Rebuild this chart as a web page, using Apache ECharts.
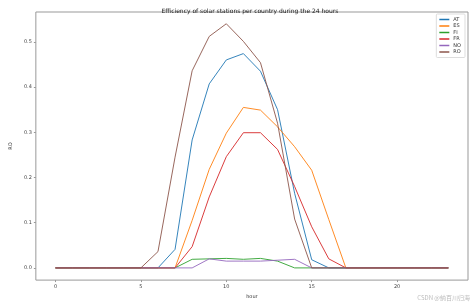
<!DOCTYPE html>
<html>
<head>
<meta charset="utf-8">
<script src="https://cdn.jsdelivr.net/npm/echarts@6/dist/echarts.min.js"></script>
<style>
  html, body { margin: 0; padding: 0; background: #fff; }
  #chart { width: 474px; height: 304px; }
</style>
</head>
<body>
<div id="chart"></div>
<script>
const hours = [0,1,2,3,4,5,6,7,8,9,10,11,12,13,14,15,16,17,18,19,20,21,22,23];
const AT = [0,0,0,0,0,0,0,0.041,0.283,0.407,0.460,0.474,0.435,0.350,0.165,0.018,0,0,0,0,0,0,0,0];
const ES = [0,0,0,0,0,0,0,0,0.105,0.218,0.298,0.355,0.349,0.312,0.268,0.216,0.107,0,0,0,0,0,0,0];
const FI = [0,0,0,0,0,0,0,0,0.019,0.020,0.021,0.019,0.021,0.015,0,0,0,0,0,0,0,0,0,0];
const FR = [0,0,0,0,0,0,0,0,0.047,0.157,0.246,0.299,0.299,0.262,0.180,0.091,0.020,0,0,0,0,0,0,0];
const NO = [0,0,0,0,0,0,0,0,0,0.020,0.015,0.015,0.015,0.017,0.019,0,0,0,0,0,0,0,0,0];
const RO = [0,0,0,0,0,0,0.036,0.245,0.436,0.512,0.540,0.501,0.454,0.320,0.108,0,0,0,0,0,0,0,0,0];
const xTicks = [0,5,10,15,20];
const yTicks = [0,0.1,0.2,0.3,0.4,0.5];

const names = ['AT','ES','FI','FR','NO','RO'];
const values = [AT,ES,FI,FR,NO,RO];
const colors = ['#1f77b4','#ff7f0e','#2ca02c','#d62728','#9467bd','#8c564b'];
const font = 'DejaVu Sans';

let chart = echarts.init(document.getElementById('chart'));
chart.setOption({
    animation: false,
    color: colors,
    title: {
        text: 'Efficiency of solar stations per country during the 24 hours',
        left: 245, textAlign: 'center', top: 3,
        textStyle: {fontFamily: font, fontSize: 6, fontWeight: 'normal', color: '#222'}
    },
    grid: {
        left: 23, right: 6, top: 12, bottom: 20,
        show: true, borderColor: '#999', borderWidth: 1
    },
    legend: {
        orient: 'vertical',
        right: 9, top: 14,
        padding: [3, 4, 3, 3],
        borderColor: '#ddd', borderWidth: 1, borderRadius: 1,
        itemWidth: 10, itemHeight: 1.5, itemGap: 1.5,
        icon: 'rect',
        textStyle: {fontFamily: font, fontSize: 5, color: '#333', padding: [0,0,0,-1]},
        data: names
    },
    xAxis: {
        type: 'value', min: -1.15, max: 24.15,
        name: 'hour', nameLocation: 'middle', nameGap: 11,
        nameTextStyle: {fontFamily: font, fontSize: 5, color: '#333'},
        axisLine: {show: false, onZero: false},
        splitLine: {show: false},
        axisTick: {show: true, customValues: xTicks, length: 2, lineStyle: {color: '#999'}},
        axisLabel: {customValues: xTicks, fontFamily: font, fontSize: 5, color: '#444', margin: 4}
    },
    yAxis: {
        type: 'value', min: -0.027, max: 0.566,
        name: 'RO', nameLocation: 'middle', nameGap: 15,
        nameTextStyle: {fontFamily: font, fontSize: 5, color: '#333'},
        axisLine: {show: false, onZero: false},
        splitLine: {show: false},
        axisTick: {show: true, customValues: yTicks, length: 2, lineStyle: {color: '#999'}},
        axisLabel: {customValues: yTicks, fontFamily: font, fontSize: 5, color: '#444', margin: 4,
            formatter: v => v.toFixed(1)}
    },
    graphic: [{
        type: 'text', right: 4, bottom: 3,
        style: {text: 'CSDN @纳百川归海', fill: '#bbb', font: '6px "Noto Sans CJK SC"'}
    }],
    series: names.map((n, i) => ({
        name: n,
        type: 'line',
        showSymbol: false,
        lineStyle: {width: 0.9},
        data: hours.map((h, j) => [h, values[i][j]])
    }))
});
</script>
</body>
</html>
